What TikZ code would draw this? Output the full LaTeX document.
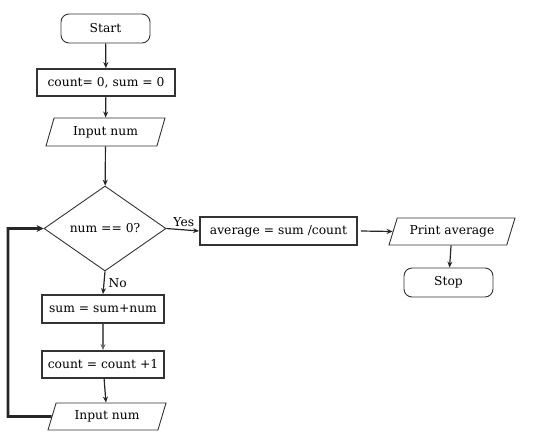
\documentclass[tikz,border=0pt]{standalone}
\usepackage{fontspec}
\setmainfont{DejaVu Serif}
\usetikzlibrary{shapes.geometric,arrows.meta}
\begin{document}
\begin{tikzpicture}[x=1pt,y=-1pt,
  font=\fontsize{12.3}{15}\selectfont,
  term/.style={draw=black!80, rounded corners=8pt, minimum width=89pt, minimum height=29pt, inner sep=0pt, line width=0.9pt},
  proc/.style={draw=black!80, line width=1.8pt, minimum height=28pt, inner sep=0pt},
  io/.style={trapezium, trapezium left angle=55, trapezium right angle=125, trapezium stretches body, draw=black!80, line width=0.9pt, minimum height=28pt, inner sep=0pt},
  dec/.style={diamond, draw=black!80, line width=0.9pt, minimum width=122pt, minimum height=85pt, inner sep=0pt},
  arr/.style={-{Stealth[length=6pt,width=5pt]}, line width=1.2pt, draw=black!85},
  lbl/.style={inner sep=2pt}
]
\useasboundingbox (0,0) rectangle (551,442);

\node[term] (start) at (105.5,28.5) {Start};
\node[proc, minimum width=138pt, minimum height=27pt] (init) at (106,82.5) {count= 0, sum = 0};
\node[io, minimum width=119pt] (in1) at (105.5,132) {Input num};
\node[dec] (dia) at (105,228.5) {num == 0?};
\node[proc, minimum width=157pt] (avg) at (278.5,231) {average = sum /count};
\node[io, minimum width=126pt, minimum height=27pt] (pr) at (452,231.5) {Print average};
\node[term] (stop) at (448.5,282.5) {Stop};
\node[proc, minimum width=122pt] (sum) at (103,309) {sum = sum+num};
\node[proc, minimum width=122pt, minimum height=27pt] (cnt) at (103,364.5) {count = count +1};
\node[io, minimum width=118pt, minimum height=27pt] (in2) at (107,416.5) {Input num};
\coordinate (lp) at (8,416.5);

\draw[arr] (start) -- (init);
\draw[arr] (init) -- (in1);
\draw[arr] (in1) -- (dia);
\draw[arr] (dia.east) -- node[lbl, above, xshift=1pt] {Yes} (avg.west);
\draw[arr] ([xshift=3pt]avg.east) -- (pr.west);
\draw[arr] (pr) -- (stop);
\draw[arr] (dia.south) -- node[lbl, right, inner sep=4pt] {No} (sum.north);
\draw[arr, draw=black!60] (sum) -- (cnt);
\draw[arr] (cnt) -- (in2);
\draw[arr, line width=2.6pt, -{Stealth[length=7pt,width=7pt]}] (in2.west) -- (lp) |- (dia.west);
\end{tikzpicture}
\end{document}
